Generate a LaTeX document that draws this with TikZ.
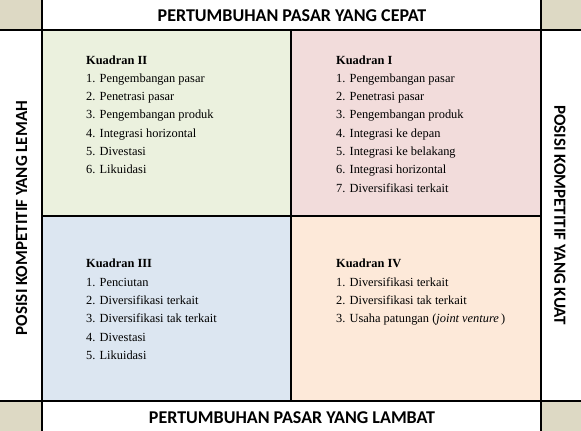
\documentclass[tikz,border=0pt]{standalone}
\usepackage{fontspec}
\setmainfont{Liberation Serif}
\newfontfamily\headfont{Carlito}
\definecolor{tanc}{HTML}{DDD9C4}
\definecolor{qgreen}{HTML}{EBF1DE}
\definecolor{qpink}{HTML}{F2DCDB}
\definecolor{qblue}{HTML}{DCE6F1}
\definecolor{qpeach}{HTML}{FDE9D9}
\tikzset{
  headlbl/.style={font=\headfont\bfseries\fontsize{18}{21}\selectfont, inner sep=0pt},
  sidelbl/.style={font=\headfont\bfseries\fontsize{17}{20}\selectfont, inner sep=0pt},
  qtext/.style={font=\fontsize{12.4}{14}\selectfont, anchor=base west, inner sep=0pt},
  gridline/.style={line width=2pt, black},
}
\begin{document}
\begin{tikzpicture}[x=1pt,y=-1pt]
\useasboundingbox (0,0) rectangle (581,431);
% corner squares
\fill[tanc] (0,0) rectangle (42,30);
\fill[tanc] (541,0) rectangle (581,30);
\fill[tanc] (0,401) rectangle (42,431);
\fill[tanc] (541,401) rectangle (581,431);
% quadrants
\fill[qgreen] (42,30) rectangle (291,216);
\fill[qpink] (291,30) rectangle (541,216);
\fill[qblue] (42,216) rectangle (291,401);
\fill[qpeach] (291,216) rectangle (541,401);
% grid
\draw[gridline] (42,0) -- (42,431);
\draw[gridline] (541,0) -- (541,431);
\draw[gridline] (0,30) -- (581,30);
\draw[gridline] (0,401) -- (581,401);
\draw[gridline] (291,30) -- (291,401);
\draw[gridline] (42,216) -- (541,216);
% headers
\node[headlbl, anchor=base] (top) at (292,21.7) {PERTUMBUHAN PASAR YANG CEPAT};
\node[headlbl, anchor=base] (bottom) at (292,423.3) {PERTUMBUHAN PASAR YANG LAMBAT};
\node[sidelbl, rotate=90] (left) at (21.5,218) {POSISI KOMPETITIF YANG LEMAH};
\node[sidelbl, rotate=-90] (right) at (560,215) {POSISI KOMPETITIF YANG KUAT};
% quadrant texts
\foreach \t [count=\i] in {\textbf{Kuadran II},1. Pengembangan pasar,2. Penetrasi pasar,3. Pengembangan produk,4. Integrasi horizontal,5. Divestasi,6. Likuidasi}
  \node[qtext] (k2-\i) at (86,{64+(\i-1)*18.33}) {\t};
\foreach \t [count=\i] in {\textbf{Kuadran I},1. Pengembangan pasar,2. Penetrasi pasar,3. Pengembangan produk,4. Integrasi ke depan,5. Integrasi ke belakang,6. Integrasi horizontal,7. Diversifikasi terkait}
  \node[qtext] (k1-\i) at (336,{64+(\i-1)*18.33}) {\t};
\foreach \t [count=\i] in {\textbf{Kuadran III},1. Penciutan,2. Diversifikasi terkait,3. Diversifikasi tak terkait,4. Divestasi,5. Likuidasi}
  \node[qtext] (k3-\i) at (86,{267.7+(\i-1)*18.33}) {\t};
\foreach \t [count=\i] in {\textbf{Kuadran IV},1. Diversifikasi terkait,2. Diversifikasi tak terkait,3. Usaha patungan (\textit{joint venture}\,)}
  \node[qtext] (k4-\i) at (336,{267.7+(\i-1)*18.33}) {\t};
\end{tikzpicture}
\end{document}
